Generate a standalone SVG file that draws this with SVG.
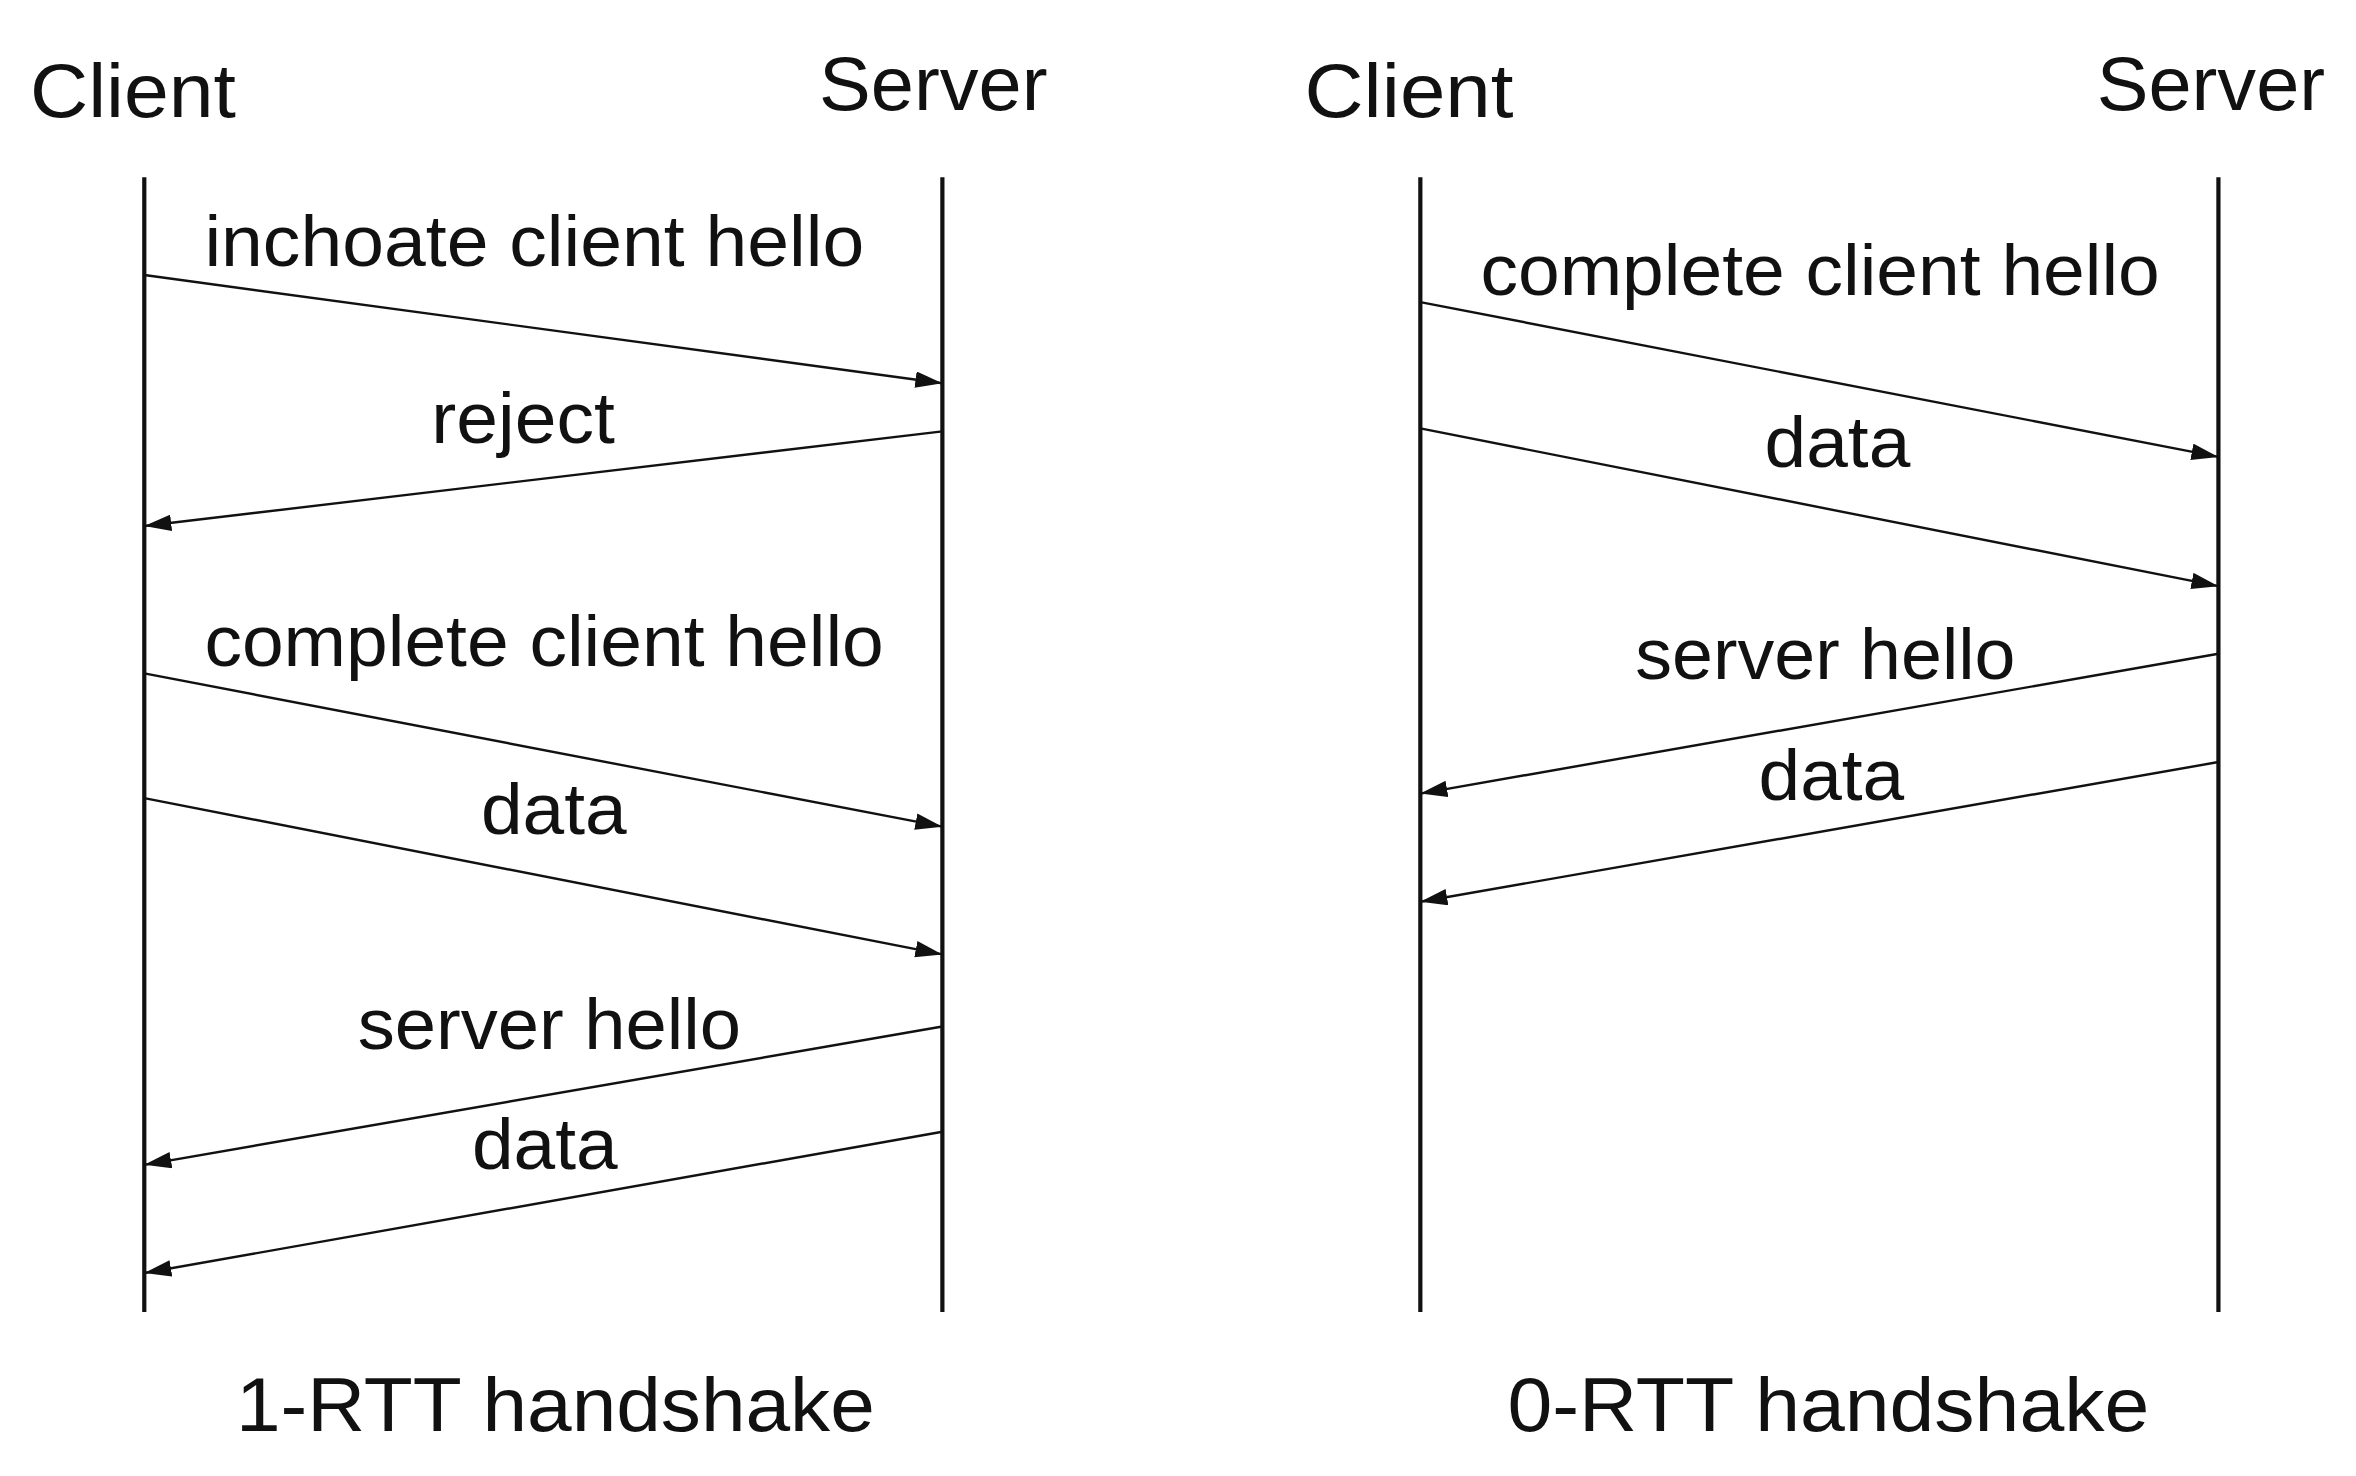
<svg xmlns="http://www.w3.org/2000/svg" width="2356" height="1476" viewBox="0 0 2356 1476">
<style>
text{font-family:"Liberation Sans",Arial,sans-serif;fill:#111;font-size:48px}
.t{font-size:50px}
.life{stroke:#111;stroke-width:2.8}
.msg{stroke:#111;stroke-width:1.6;fill:none;marker-end:url(#ah)}
</style>
<defs><marker id="ah" viewBox="0 0 10 10" refX="10" refY="5" markerWidth="18" markerHeight="11" markerUnits="userSpaceOnUse" orient="auto" preserveAspectRatio="none"><path d="M0,0L10,5L0,10z" fill="#111"/></marker></defs>
<rect width="2356" height="1476" fill="#fff"/>
<g transform="scale(1.503)">
<g id="left">
<g id="client1"><text class="t" x="20" y="78" textLength="137" lengthAdjust="spacingAndGlyphs">Client</text><line class="life" x1="96" y1="118" x2="96" y2="873"/></g>
<g id="server1"><text class="t" x="545" y="73" textLength="152" lengthAdjust="spacingAndGlyphs">Server</text><line class="life" x1="627" y1="118" x2="627" y2="873"/></g>
<g id="labels1">
<text x="136" y="177" textLength="439" lengthAdjust="spacingAndGlyphs">inchoate client hello</text>
<text x="287" y="295" textLength="122" lengthAdjust="spacingAndGlyphs">reject</text>
<text x="136" y="443" textLength="452" lengthAdjust="spacingAndGlyphs">complete client hello</text>
<text x="320" y="555" textLength="97" lengthAdjust="spacingAndGlyphs">data</text>
<text x="238" y="698" textLength="255" lengthAdjust="spacingAndGlyphs">server hello</text>
<text x="314" y="778" textLength="97" lengthAdjust="spacingAndGlyphs">data</text>
<text class="t" x="157" y="952" textLength="425" lengthAdjust="spacingAndGlyphs">1-RTT handshake</text>
</g>
</g>
<g id="right">
<g id="client2"><text class="t" x="868" y="78" textLength="139" lengthAdjust="spacingAndGlyphs">Client</text><line class="life" x1="945" y1="118" x2="945" y2="873"/></g>
<g id="server2"><text class="t" x="1395" y="73" textLength="152" lengthAdjust="spacingAndGlyphs">Server</text><line class="life" x1="1476" y1="118" x2="1476" y2="873"/></g>
<g id="labels2">
<text x="985" y="196" textLength="452" lengthAdjust="spacingAndGlyphs">complete client hello</text>
<text x="1174" y="311" textLength="97" lengthAdjust="spacingAndGlyphs">data</text>
<text x="1088" y="452" textLength="253" lengthAdjust="spacingAndGlyphs">server hello</text>
<text x="1170" y="532" textLength="97" lengthAdjust="spacingAndGlyphs">data</text>
<text class="t" x="1003" y="952" textLength="427" lengthAdjust="spacingAndGlyphs">0-RTT handshake</text>
</g>
</g>
<g id="connectors">
<line class="msg" x1="96" y1="183" x2="627" y2="255"/>
<line class="msg" x1="627" y1="287" x2="96" y2="350"/>
<line class="msg" x1="96" y1="448" x2="627" y2="550"/>
<line class="msg" x1="96" y1="531" x2="627" y2="635"/>
<line class="msg" x1="627" y1="683" x2="96" y2="775"/>
<line class="msg" x1="627" y1="753" x2="96" y2="847"/>
<line class="msg" x1="945" y1="201" x2="1476" y2="304"/>
<line class="msg" x1="945" y1="285" x2="1476" y2="390"/>
<line class="msg" x1="1476" y1="435" x2="945" y2="528"/>
<line class="msg" x1="1476" y1="507" x2="945" y2="600"/>
</g>
</g>
</svg>
